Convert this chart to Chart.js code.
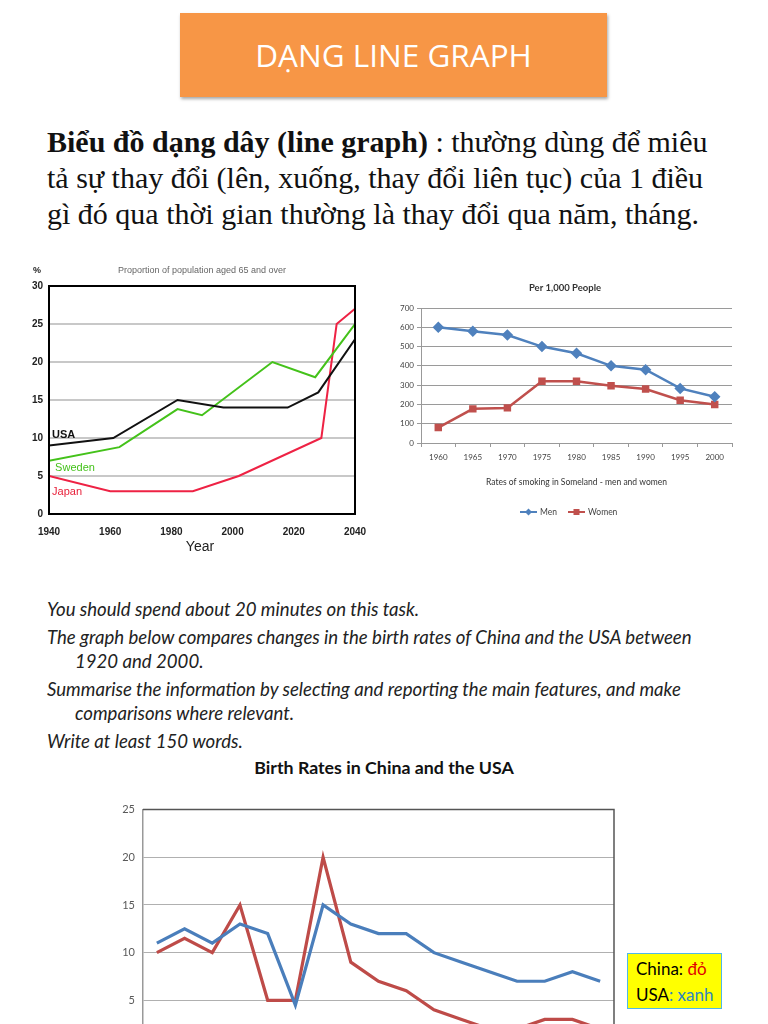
<!DOCTYPE html>
<html>
<head>
<meta charset="utf-8">
<script src="https://cdn.jsdelivr.net/npm/chart.js@4.4.1/dist/chart.umd.min.js"></script>
<style>
  body { margin: 0; width: 768px; height: 1024px; overflow: hidden; background: #fff; position: relative; }
  .abs { position: absolute; }
  #header { left: 180px; top: 13px; width: 427px; height: 84px; background: #f79646; color: #fff;
    font-family: "Open Sans", sans-serif; font-size: 31.5px; line-height: 84px; text-align: center;
    box-shadow: 1px 2px 3px rgba(0,0,0,0.35); }
  #intro { left: 47px; top: 124px; width: 720px; font-family: "Liberation Serif", serif; font-size: 30px;
    line-height: 36px; color: #111; white-space: nowrap; }
  #task { left: 47px; top: 597px; width: 720px; font-family: Lato, sans-serif; font-style: italic;
    font-size: 18.6px; color: #222; white-space: nowrap; }
  #task p { margin: 0; line-height: 24px; }
  #task p.gap { margin-top: 4px; }
  #task .ind { padding-left: 28px; }
  #birthTitle { left: 0; width: 768px; top: 756px; text-align: center; font-family: Lato, sans-serif;
    font-weight: bold; font-size: 17.8px; color: #111; }
  #key { left: 627px; top: 953px; width: 95px; height: 56px; background: #ffff00; border: 1px solid #4fb8e8;
    font-family: Lato, sans-serif; font-size: 17px; line-height: 26px; padding-left: 8px; box-sizing: border-box; padding-top: 2px; }
  canvas { position: absolute; }
</style>
</head>
<body>
<div id="header" class="abs">DẠNG LINE GRAPH</div>
<div id="intro" class="abs"><b>Biểu đồ dạng dây (line graph)</b> : thường dùng để miêu<br>tả sự thay đổi (lên, xuống, thay đổi liên tục) của 1 điều<br>gì đó qua thời gian thường là thay đổi qua năm, tháng.</div>

<canvas id="popChart" width="350" height="295" style="left:25px;top:262px;width:350px;height:295px"></canvas>
<canvas id="smokeChart" width="355" height="250" style="left:385px;top:278px;width:355px;height:250px"></canvas>

<div id="task" class="abs">
  <p>You should spend about 20 minutes on this task.</p>
  <p class="gap">The graph below compares changes in the birth rates of China and the USA between</p>
  <p class="ind">1920 and 2000.</p>
  <p class="gap">Summarise the information by selecting and reporting the main features, and make</p>
  <p class="ind">comparisons where relevant.</p>
  <p class="gap">Write at least 150 words.</p>
</div>
<div id="birthTitle" class="abs">Birth Rates in China and the USA</div>

<canvas id="birthChart" width="530" height="283" style="left:100px;top:795px;width:530px;height:283px"></canvas>
<div id="key" class="abs">China: <span style="color:#e00000">đỏ</span><br>USA<span style="color:#2e86c1">: xanh</span></div>

<script>
// proportion of population aged 65 and over (%)
let usaYears = [1940, 1961, 1982, 1997, 2018, 2028, 2040];
let usaPct = [9, 10, 15, 14, 14, 16, 23];
let swedenYears = [1940, 1963, 1982, 1990, 2013, 2027, 2040];
let swedenPct = [7, 8.8, 13.8, 13, 20, 18, 25];
let japanYears = [1940, 1960, 1987, 2002, 2029, 2034, 2040];
let japanPct = [5, 3, 3, 5, 10, 25, 27];

// smoking rates per 1,000 people
let smokeYears = ['1960', '1965', '1970', '1975', '1980', '1985', '1990', '1995', '2000'];
let menRates = [600, 580, 560, 500, 465, 400, 380, 283, 240];
let womenRates = [80, 177, 182, 320, 320, 297, 280, 222, 200];

// birth rates
let birthYears = ['1920', '1925', '1930', '1935', '1940', '1945', '1950', '1955', '1960',
    '1965', '1970', '1975', '1980', '1985', '1990', '1995', '2000'];
let chinaBirth = [10, 11.5, 10, 15, 5, 5, 20, 9, 7, 6, 4, 3, 2, 2, 3, 3, 2];
let usaBirth = [11, 12.5, 11, 13, 12, 4.5, 15, 13, 12, 12, 10, 9, 8, 7, 7, 8, 7];

function pairs(xs, ys) {
    return xs.map((x, i) => ({ x: x, y: ys[i] }));
}

// ---------- chart 1 ----------
const popDecor = {
    id: 'popDecor',
    afterDraw(chart) {
        const { ctx, chartArea: a, scales: { x, y } } = chart;
        ctx.save();
        ctx.strokeStyle = '#000';
        ctx.lineWidth = 2;
        ctx.strokeRect(a.left, a.top, a.right - a.left, a.bottom - a.top);
        ctx.textBaseline = 'middle';
        ctx.fillStyle = '#666';
        ctx.font = '9px "Liberation Sans", Arial';
        ctx.textAlign = 'center';
        ctx.fillText('Proportion of population aged 65 and over', (a.left + a.right) / 2, 9);
        ctx.fillStyle = '#222';
        ctx.font = 'bold 9px "Liberation Sans", Arial';
        ctx.fillText('%', 12, 9);
        ctx.font = '14px "Liberation Sans", Arial';
        ctx.fillText('Year', (a.left + a.right) / 2 - 2, 285);
        ctx.textAlign = 'left';
        ctx.font = 'bold 11px "Liberation Sans", Arial';
        ctx.fillStyle = '#111';
        ctx.fillText('USA', x.getPixelForValue(1941), y.getPixelForValue(10.4));
        ctx.font = '11px "Liberation Sans", Arial';
        ctx.fillStyle = '#44c21a';
        ctx.fillText('Sweden', x.getPixelForValue(1942), y.getPixelForValue(6.05));
        ctx.fillStyle = '#e8203a';
        ctx.fillText('Japan', x.getPixelForValue(1941), y.getPixelForValue(2.9));
        ctx.restore();
    }
};

new Chart(document.getElementById('popChart'), {
    type: 'line',
    data: {
        datasets: [
            { data: pairs(usaYears, usaPct), borderColor: '#111', borderWidth: 2 },
            { data: pairs(swedenYears, swedenPct), borderColor: '#44c21a', borderWidth: 2 },
            { data: pairs(japanYears, japanPct), borderColor: '#ee2244', borderWidth: 2 }
        ]
    },
    options: {
        responsive: false,
        animation: false,
        devicePixelRatio: 1,
        elements: { point: { radius: 0 }, line: { tension: 0 } },
        layout: { padding: { top: 24, right: 20, left: 0, bottom: 0 } },
        plugins: { legend: { display: false }, tooltip: { enabled: false } },
        scales: {
            x: {
                type: 'linear', min: 1940, max: 2040,
                ticks: { stepSize: 20, color: '#222', font: { size: 10, weight: 'bold', family: '"Liberation Sans", Arial' }, padding: 4,
                    callback: (v) => String(v) },
                grid: { display: false },
                border: { display: false },
                afterFit: (s) => { s.height = 43; }
            },
            y: {
                min: 0, max: 30,
                ticks: { stepSize: 5, color: '#222', font: { size: 10, weight: 'bold', family: '"Liberation Sans", Arial' }, padding: 6 },
                grid: { color: '#c8c8c8', lineWidth: 2, drawTicks: false },
                border: { display: false },
                afterFit: (s) => { s.width = 24; }
            }
        }
    },
    plugins: [popDecor]
});

// ---------- chart 2 ----------
const smokeDecor = {
    id: 'smokeDecor',
    afterDraw(chart) {
        const { ctx, chartArea: a } = chart;
        ctx.save();
        ctx.textBaseline = 'middle';
        ctx.textAlign = 'center';
        ctx.fillStyle = '#333';
        ctx.font = 'bold 9.5px Lato, sans-serif';
        ctx.fillText('Per 1,000 People', 180, 10);
        ctx.font = '8.5px Lato, sans-serif';
        ctx.fillText('Rates of smoking in Someland - men and women', (a.left + a.right) / 2, 204);
        // legend
        const items = [
            { ds: chart.data.datasets[0], x0: 135, label: 'Men' },
            { ds: chart.data.datasets[1], x0: 183, label: 'Women' }
        ];
        ctx.textAlign = 'left';
        items.forEach((it) => {
            const yy = 234;
            ctx.strokeStyle = it.ds.borderColor;
            ctx.lineWidth = 2;
            ctx.beginPath();
            ctx.moveTo(it.x0, yy);
            ctx.lineTo(it.x0 + 17, yy);
            ctx.stroke();
            ctx.fillStyle = it.ds.borderColor;
            const cx = it.x0 + 8.5;
            if (it.ds.pointStyle === 'rectRot') {
                ctx.beginPath();
                ctx.moveTo(cx, yy - 3.5); ctx.lineTo(cx + 3.5, yy); ctx.lineTo(cx, yy + 3.5); ctx.lineTo(cx - 3.5, yy);
                ctx.closePath(); ctx.fill();
            } else {
                ctx.fillRect(cx - 3, yy - 3, 6, 6);
            }
            ctx.fillStyle = '#444';
            ctx.fillText(it.label, it.x0 + 20, yy);
        });
        ctx.restore();
    }
};

new Chart(document.getElementById('smokeChart'), {
    type: 'line',
    data: {
        labels: smokeYears,
        datasets: [
            { label: 'Men', data: menRates, borderColor: '#4f81bd', backgroundColor: '#4f81bd', borderWidth: 2.5,
              pointStyle: 'rectRot', pointRadius: 4 },
            { label: 'Women', data: womenRates, borderColor: '#c0504d', backgroundColor: '#c0504d', borderWidth: 2.5,
              pointStyle: 'rect', pointRadius: 3.5 }
        ]
    },
    options: {
        responsive: false,
        animation: false,
        devicePixelRatio: 1,
        elements: { line: { tension: 0 } },
        layout: { padding: { top: 30, right: 8, left: 0, bottom: 0 } },
        plugins: { legend: { display: false }, tooltip: { enabled: false } },
        scales: {
            x: {
                offset: true,
                ticks: { color: '#444', font: { size: 8, family: 'Lato, sans-serif' }, padding: 6 },
                grid: { offset: true, drawOnChartArea: false, tickLength: 4, color: '#999' },
                border: { color: '#999' },
                afterFit: (s) => { s.height = 85; }
            },
            y: {
                min: 0, max: 700,
                ticks: { stepSize: 100, color: '#444', font: { size: 8, family: 'Lato, sans-serif' }, padding: 3 },
                grid: { color: '#9a9a9a', tickLength: 4 },
                border: { color: '#999' },
                afterFit: (s) => { s.width = 36; }
            }
        }
    },
    plugins: [smokeDecor]
});

// ---------- chart 3 ----------
const birthFrame = {
    id: 'birthFrame',
    afterDatasetsDraw(chart) {
        const { ctx, chartArea: a } = chart;
        ctx.save();
        ctx.strokeStyle = '#555';
        ctx.lineWidth = 1.5;
        ctx.beginPath();
        ctx.moveTo(a.left, a.top);
        ctx.lineTo(a.right, a.top);
        ctx.lineTo(a.right, a.bottom);
        ctx.stroke();
        ctx.restore();
    }
};

new Chart(document.getElementById('birthChart'), {
    type: 'line',
    data: {
        labels: birthYears,
        datasets: [
            { label: 'USA', data: usaBirth, borderColor: '#4a7ebb', borderWidth: 3.2 },
            { label: 'China', data: chinaBirth, borderColor: '#be4b48', borderWidth: 3.2 }
        ]
    },
    options: {
        responsive: false,
        animation: false,
        devicePixelRatio: 1,
        elements: { point: { radius: 0 }, line: { tension: 0 } },
        layout: { padding: { top: 10, right: 16, left: 0, bottom: 0 } },
        plugins: { legend: { display: false }, tooltip: { enabled: false } },
        scales: {
            x: {
                offset: true,
                ticks: { color: '#595959', font: { size: 11, family: 'Lato, sans-serif' } },
                grid: { display: false },
                border: { color: '#999' },
                afterFit: (s) => { s.height = 30; }
            },
            y: {
                min: 0, max: 25,
                ticks: { stepSize: 5, color: '#595959', font: { size: 11, family: 'Lato, sans-serif' }, padding: 8 },
                grid: { color: '#b0b0b0', tickLength: 0 },
                border: { color: '#999', width: 1.5 },
                afterFit: (s) => { s.width = 43; }
            }
        }
    },
    plugins: [birthFrame]
});
</script>
</body>
</html>
